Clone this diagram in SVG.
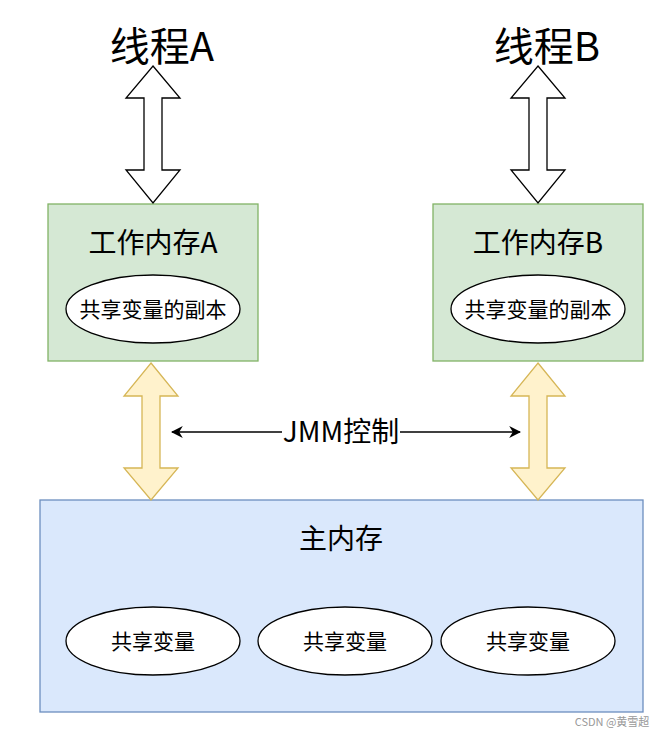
<svg xmlns="http://www.w3.org/2000/svg" width="667" height="736" viewBox="0 0 667 736">
<style>
text{font-family:"Noto Sans CJK SC","Noto Sans",sans-serif;fill:#000;text-anchor:middle}
.g{fill:#d5e8d4;stroke:#82b366;stroke-width:1.3}
.b{fill:#dae8fc;stroke:#6c8ebf;stroke-width:1.3}
.e{fill:#fff;stroke:#000;stroke-width:1.3}
.wa{fill:#fff;stroke:#000;stroke-width:1.3}
.ya{fill:#fff2cc;stroke:#d6b656;stroke-width:1.3}
</style>
<defs><marker id="m" viewBox="0 0 10 10" refX="9" refY="5" markerWidth="8" markerHeight="8" orient="auto-start-reverse"><path d="M0,0 L10,5 L0,10 L3,5 Z" fill="#000"/></marker></defs>
<rect width="667" height="736" fill="#fff"/>
<g id="threadA"><text x="162" y="61" font-size="40">线程A</text></g>
<g id="threadB"><text x="547" y="61" font-size="40">线程B</text></g>
<g id="memA"><rect class="g" x="48" y="204" width="210" height="157"/><text x="153" y="253" font-size="28">工作内存A</text>
<ellipse class="e" cx="153" cy="309" rx="87" ry="34"/><text x="153" y="317" font-size="21">共享变量的副本</text></g>
<g id="memB"><rect class="g" x="433" y="204" width="210" height="157"/><text x="538" y="253" font-size="28">工作内存B</text>
<ellipse class="e" cx="538" cy="309" rx="87" ry="34"/><text x="538" y="317" font-size="21">共享变量的副本</text></g>
<g id="main"><rect class="b" x="40" y="500" width="603" height="212"/><text x="341" y="549" font-size="28">主内存</text>
<ellipse class="e" cx="153" cy="641" rx="87" ry="34"/><text x="153" y="649" font-size="21">共享变量</text>
<ellipse class="e" cx="345" cy="641" rx="87" ry="34"/><text x="345" y="649" font-size="21">共享变量</text>
<ellipse class="e" cx="528" cy="641" rx="87" ry="34"/><text x="528" y="649" font-size="21">共享变量</text></g>
<g id="connectors">
<path class="wa" d="M153,66 L180,98 L162,98 L162,170 L180,170 L153,203 L126,170 L144,170 L144,98 L126,98 Z"/>
<path class="wa" d="M538,66 L565,98 L547,98 L547,170 L565,170 L538,203 L511,170 L529,170 L529,98 L511,98 Z"/>
<path class="ya" d="M151,363 L178,396 L160,396 L160,468 L178,468 L151,500 L124,468 L142,468 L142,396 L124,396 Z"/>
<path class="ya" d="M538,363 L565,396 L547,396 L547,468 L565,468 L538,500 L511,468 L529,468 L529,396 L511,396 Z"/>
<line x1="172" y1="432" x2="282" y2="432" stroke="#000" stroke-width="1.5" marker-start="url(#m)"/>
<line x1="400" y1="432" x2="520" y2="432" stroke="#000" stroke-width="1.5" marker-end="url(#m)"/>
<text x="341" y="442" font-size="28">JMM控制</text>
</g>
<text x="612" y="726" font-size="11" style="fill:#999">CSDN @黄雪超</text>
</svg>
